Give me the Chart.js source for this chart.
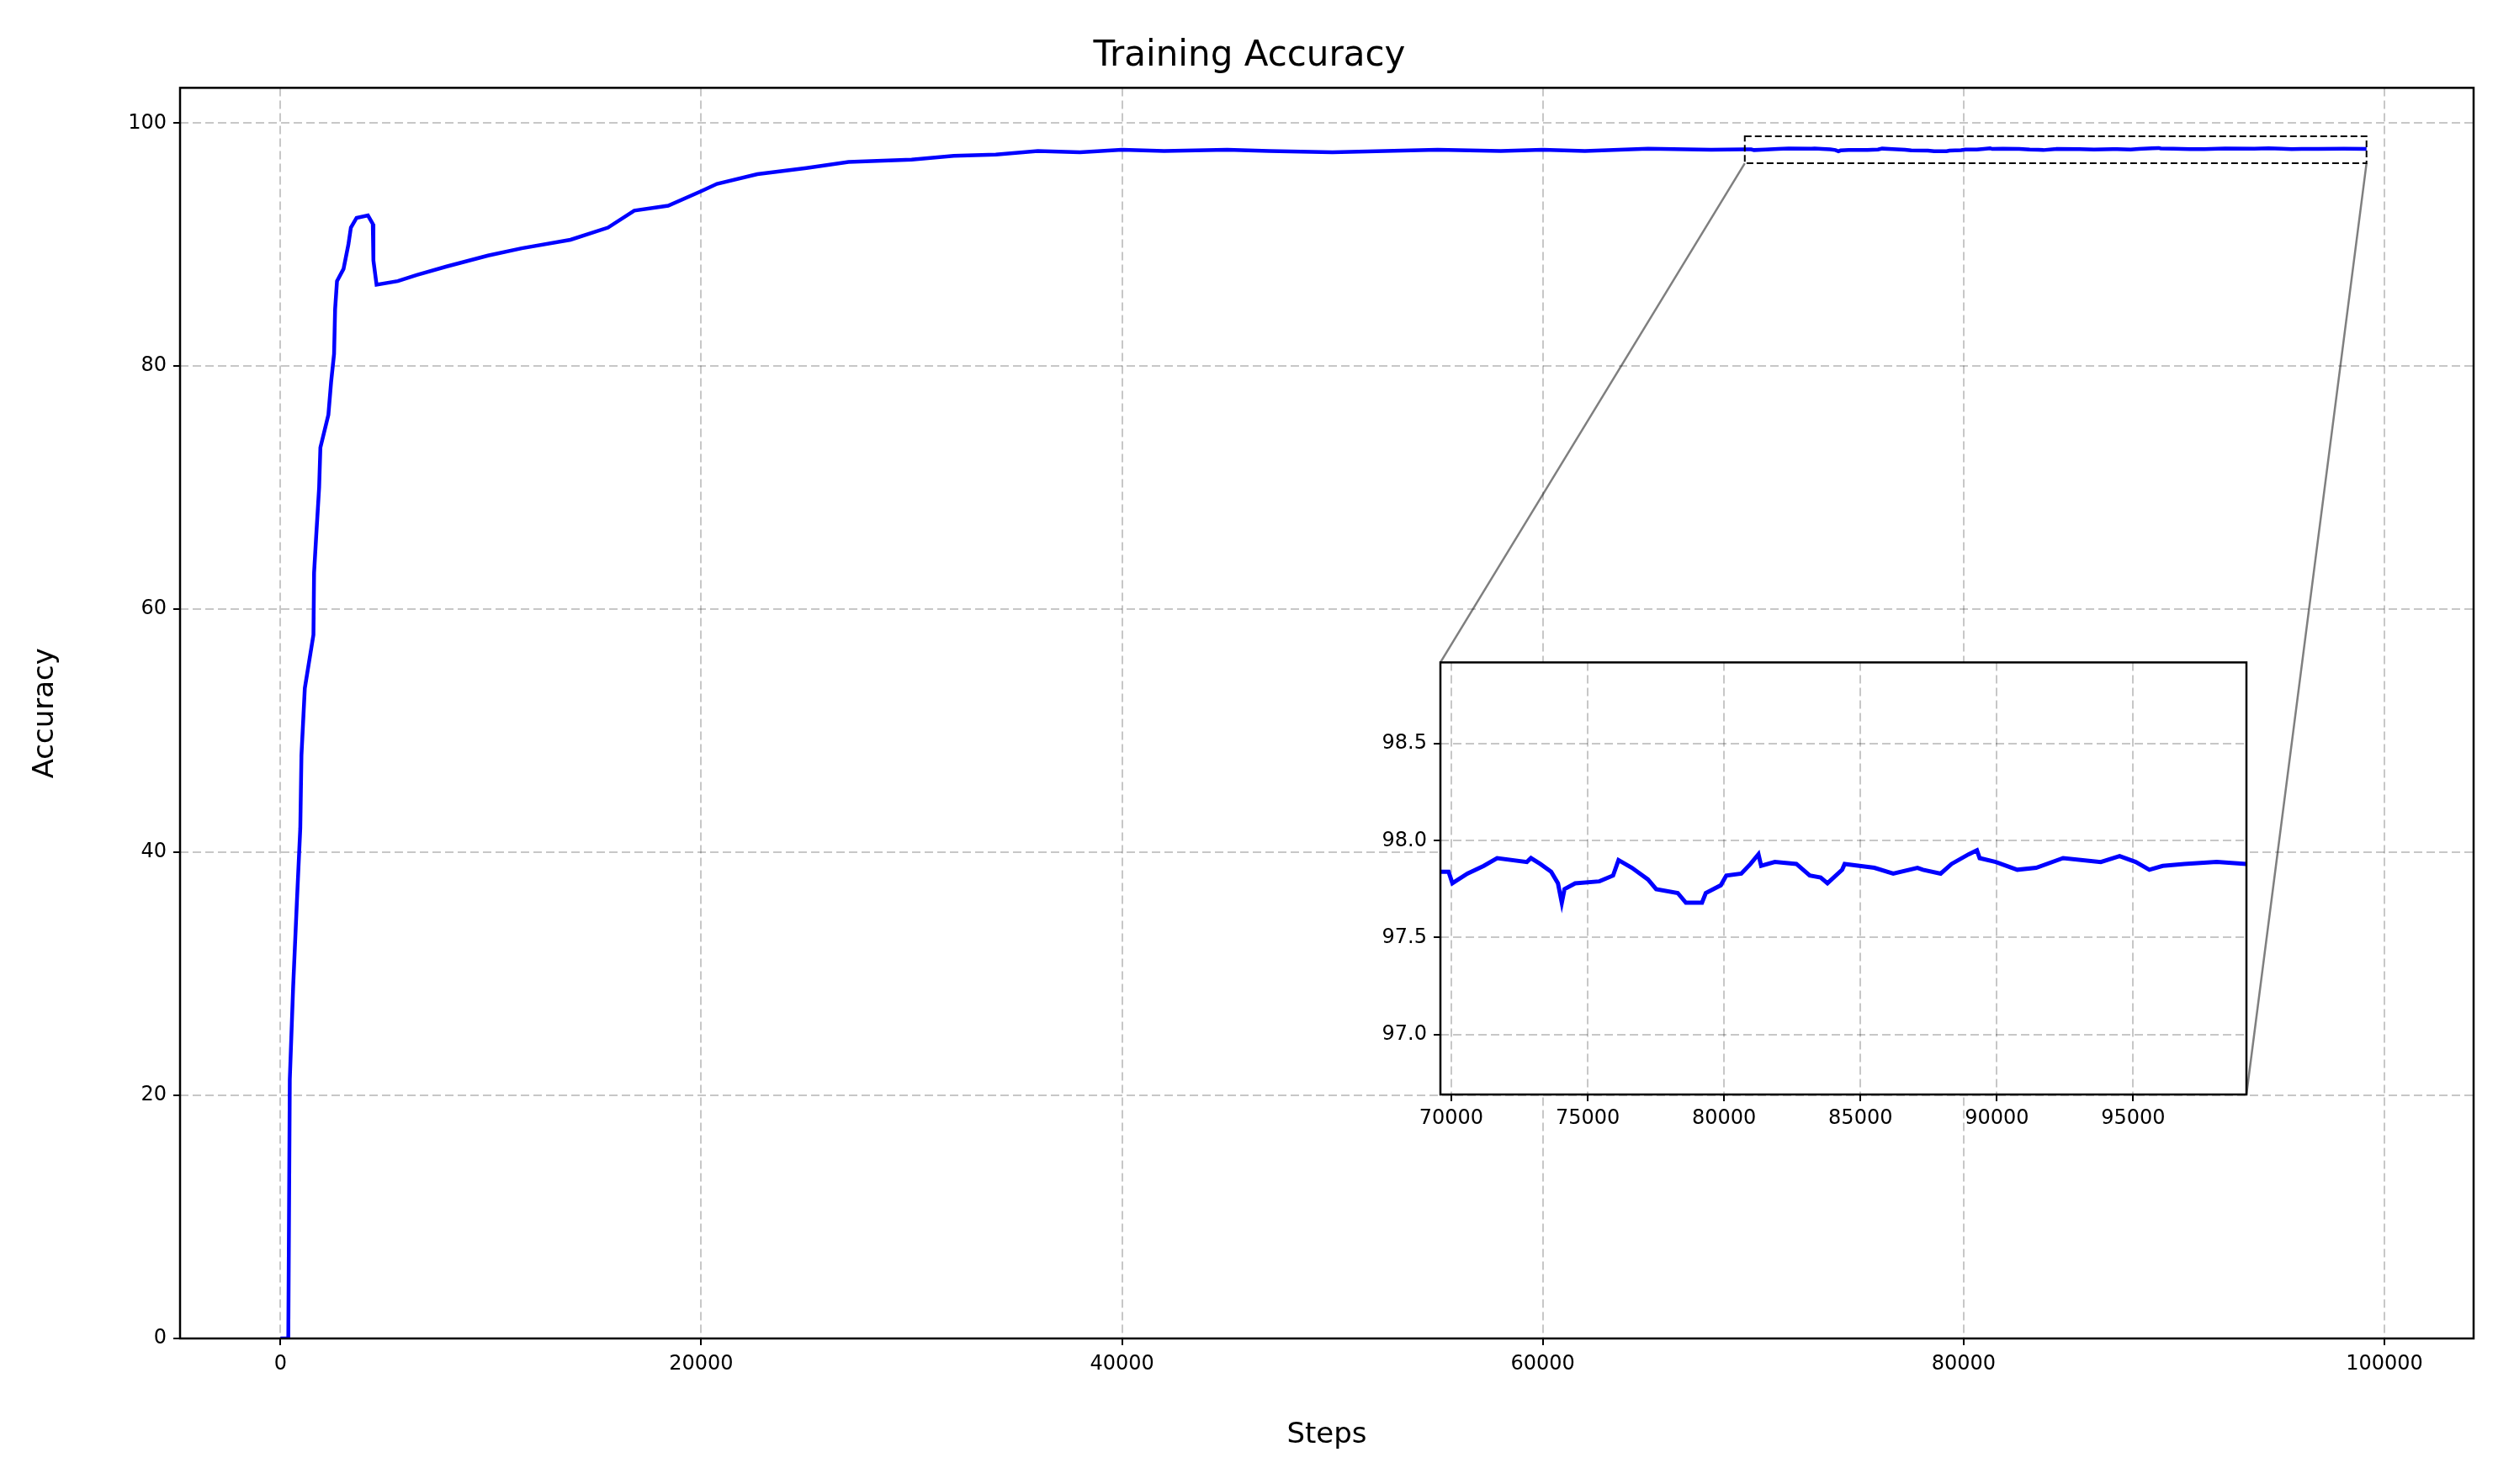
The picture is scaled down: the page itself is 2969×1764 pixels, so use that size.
<!DOCTYPE html>
<html><head><meta charset="utf-8">
<script src="https://cdn.jsdelivr.net/npm/chart.js@4"></script>
<style>html,body{margin:0;padding:0;background:#fff;}#wrap{position:relative;width:2969px;height:1764px;}
#main{position:absolute;left:0;top:0;}#inset{position:absolute;left:1590px;top:765px;}</style>
</head><body><div id="wrap"><canvas id="main" width="2969" height="1764"></canvas><canvas id="inset" width="1100" height="600"></canvas></div>
<script>
const earlySteps=[0,375,446,607,785,945,1000,1160,1570,1600,1700,1840,1900,2280,2410,2550,2600,2690,3000,3230,3350,3620,4160,4390,4420,4570,5580,6480,7900,9870,11470,13790,15570,16820,18430,20000,20750,22670,25000,27000,30000,32000,34000,36000,38000,40000,42000,45000,47000,50000,55000,58000,60000,62000,65000,68000];
const earlyAcc=[0,0,21.3,29.0,36.0,42.0,48.0,53.5,57.9,63.0,66.0,70.0,73.3,76.0,78.7,81.0,84.7,87.0,88.0,90.0,91.4,92.2,92.4,91.7,88.7,86.7,87.0,87.5,88.2,89.1,89.7,90.4,91.4,92.8,93.2,94.4,95.0,95.8,96.3,96.8,97.0,97.3,97.4,97.7,97.6,97.8,97.7,97.8,97.7,97.6,97.8,97.7,97.8,97.7,97.9,97.8];
const insetSteps=[69600,69900,70040,70590,71190,71680,72770,72920,73260,73660,73910,74050,74150,74540,75430,75930,76130,76620,77210,77510,78300,78600,79190,79330,79880,80080,80630,80970,81260,81360,81860,82650,83140,83540,83790,84330,84420,85510,86200,87090,87290,87940,88340,88970,89270,89370,89960,90750,91440,92430,93810,94500,95090,95590,96080,96870,98060,99150];
const insetAcc=[97.84,97.84,97.78,97.83,97.87,97.91,97.89,97.91,97.88,97.84,97.78,97.68,97.75,97.78,97.79,97.82,97.90,97.86,97.80,97.75,97.73,97.68,97.68,97.73,97.77,97.82,97.83,97.88,97.93,97.87,97.89,97.88,97.82,97.81,97.78,97.85,97.88,97.86,97.83,97.86,97.85,97.83,97.88,97.93,97.95,97.91,97.89,97.85,97.86,97.91,97.89,97.92,97.89,97.85,97.87,97.88,97.89,97.88];
const mainXTicks=[0,20000,40000,60000,80000,100000];
const mainYTicks=[0,20,40,60,80,100];
const insetXTicks=[70000,75000,80000,85000,90000,95000];
const insetYTicks=[97.0,97.5,98.0,98.5];
const zoomBox={x0:69600,x1:99150,y0:96.69,y1:98.92};

const FONT='"DejaVu Sans", sans-serif';
Chart.defaults.font.family=FONT;Chart.defaults.color='#000';
const mainData=earlySteps.map((s,i)=>({x:s,y:earlyAcc[i]})).concat(insetSteps.map((s,i)=>({x:s,y:insetAcc[i]})));
const insetData=insetSteps.map((s,i)=>({x:s,y:insetAcc[i]}));
const grid={color:'rgba(0,0,0,0.22)',lineWidth:2,tickColor:'#000',tickLength:8,tickWidth:2};
const border={display:false,dash:[10,5]};
function fixTicks(list){return function(ax){ax.ticks=list.map(v=>({value:v}));};}
const frame={id:'frame',
  beforeDatasetsDraw(c,a,o){if(o.white){const ar=c.chartArea;}},
  beforeDraw(c,a,o){if(o.white){const ar=c.chartArea;c.ctx.save();c.ctx.fillStyle='#fff';c.ctx.fillRect(ar.left,ar.top,ar.right-ar.left,ar.bottom-ar.top);c.ctx.restore();}},
  afterDatasetsDraw(c){const ar=c.chartArea,ctx=c.ctx;ctx.save();ctx.strokeStyle='#000';ctx.lineWidth=2.5;ctx.strokeRect(ar.left,ar.top,ar.right-ar.left,ar.bottom-ar.top);ctx.restore();}};
let insetChart=null;
const overlay={id:'overlay',afterDatasetsDraw(c){
  const x=c.scales.x,y=c.scales.y,ctx=c.ctx;
  const l=x.getPixelForValue(zoomBox.x0),r=x.getPixelForValue(zoomBox.x1),t=y.getPixelForValue(zoomBox.y1),b=y.getPixelForValue(zoomBox.y0);
  ctx.save();ctx.strokeStyle='#000';ctx.lineWidth=2;ctx.setLineDash([8,4]);ctx.strokeRect(l,t,r-l,b-t);ctx.setLineDash([]);
  if(insetChart){const a=insetChart.chartArea;const ox=1590,oy=765;
    ctx.strokeStyle='rgba(0,0,0,0.5)';ctx.lineWidth=2.5;ctx.beginPath();
    ctx.moveTo(l,b);ctx.lineTo(ox+a.left,oy+a.top);ctx.moveTo(r,b);ctx.lineTo(ox+a.right,oy+a.bottom);ctx.stroke();}
  ctx.restore();}};
insetChart=new Chart(document.getElementById('inset'),{type:'line',data:{datasets:[{data:insetData,borderColor:'#0000ff',borderWidth:5,pointRadius:0,tension:0}]},
 plugins:[frame],
 options:{responsive:false,animation:false,layout:{padding:{top:10,right:20,left:0,bottom:0}},plugins:{legend:{display:false},tooltip:{enabled:false},frame:{white:true}},
 scales:{x:{type:'linear',min:zoomBox.x0,max:zoomBox.x1,afterBuildTicks:fixTicks(insetXTicks),afterFit(s){s.height=64;},
   ticks:{font:{size:24},padding:6,callback:v=>String(v),maxRotation:0,autoSkip:false},grid,border},
  y:{min:zoomBox.y0,max:zoomBox.y1,afterBuildTicks:fixTicks(insetYTicks),afterFit(s){s.width=122;},
   ticks:{font:{size:24},padding:8,callback:v=>Number(v).toFixed(1)},grid,border}}}});
new Chart(document.getElementById('main'),{type:'line',data:{datasets:[{data:mainData,borderColor:'#0000ff',borderWidth:4.5,pointRadius:0,tension:0}]},
 plugins:[overlay,frame],
 options:{responsive:false,animation:false,layout:{padding:{top:0,right:29,left:30,bottom:33}},
 plugins:{legend:{display:false},tooltip:{enabled:false},frame:{white:false},title:{display:true,text:'Training Accuracy',font:{size:42,weight:'normal'},padding:{top:42,bottom:12},color:'#000'}},
 scales:{x:{type:'linear',min:-4770,max:104240,afterBuildTicks:fixTicks(mainXTicks),afterFit(s){s.height=140;},
   title:{display:true,text:'Steps',font:{size:34},padding:{top:14}},
   ticks:{font:{size:24},padding:8,callback:v=>String(v),maxRotation:0,autoSkip:false},grid,border},
  y:{min:0,max:102.9,afterBuildTicks:fixTicks(mainYTicks),afterFit(s){s.width=184;},
   title:{display:true,text:'Accuracy',font:{size:34},padding:{bottom:20}},
   ticks:{font:{size:24},padding:8},grid,border}}}});
</script></body></html>
